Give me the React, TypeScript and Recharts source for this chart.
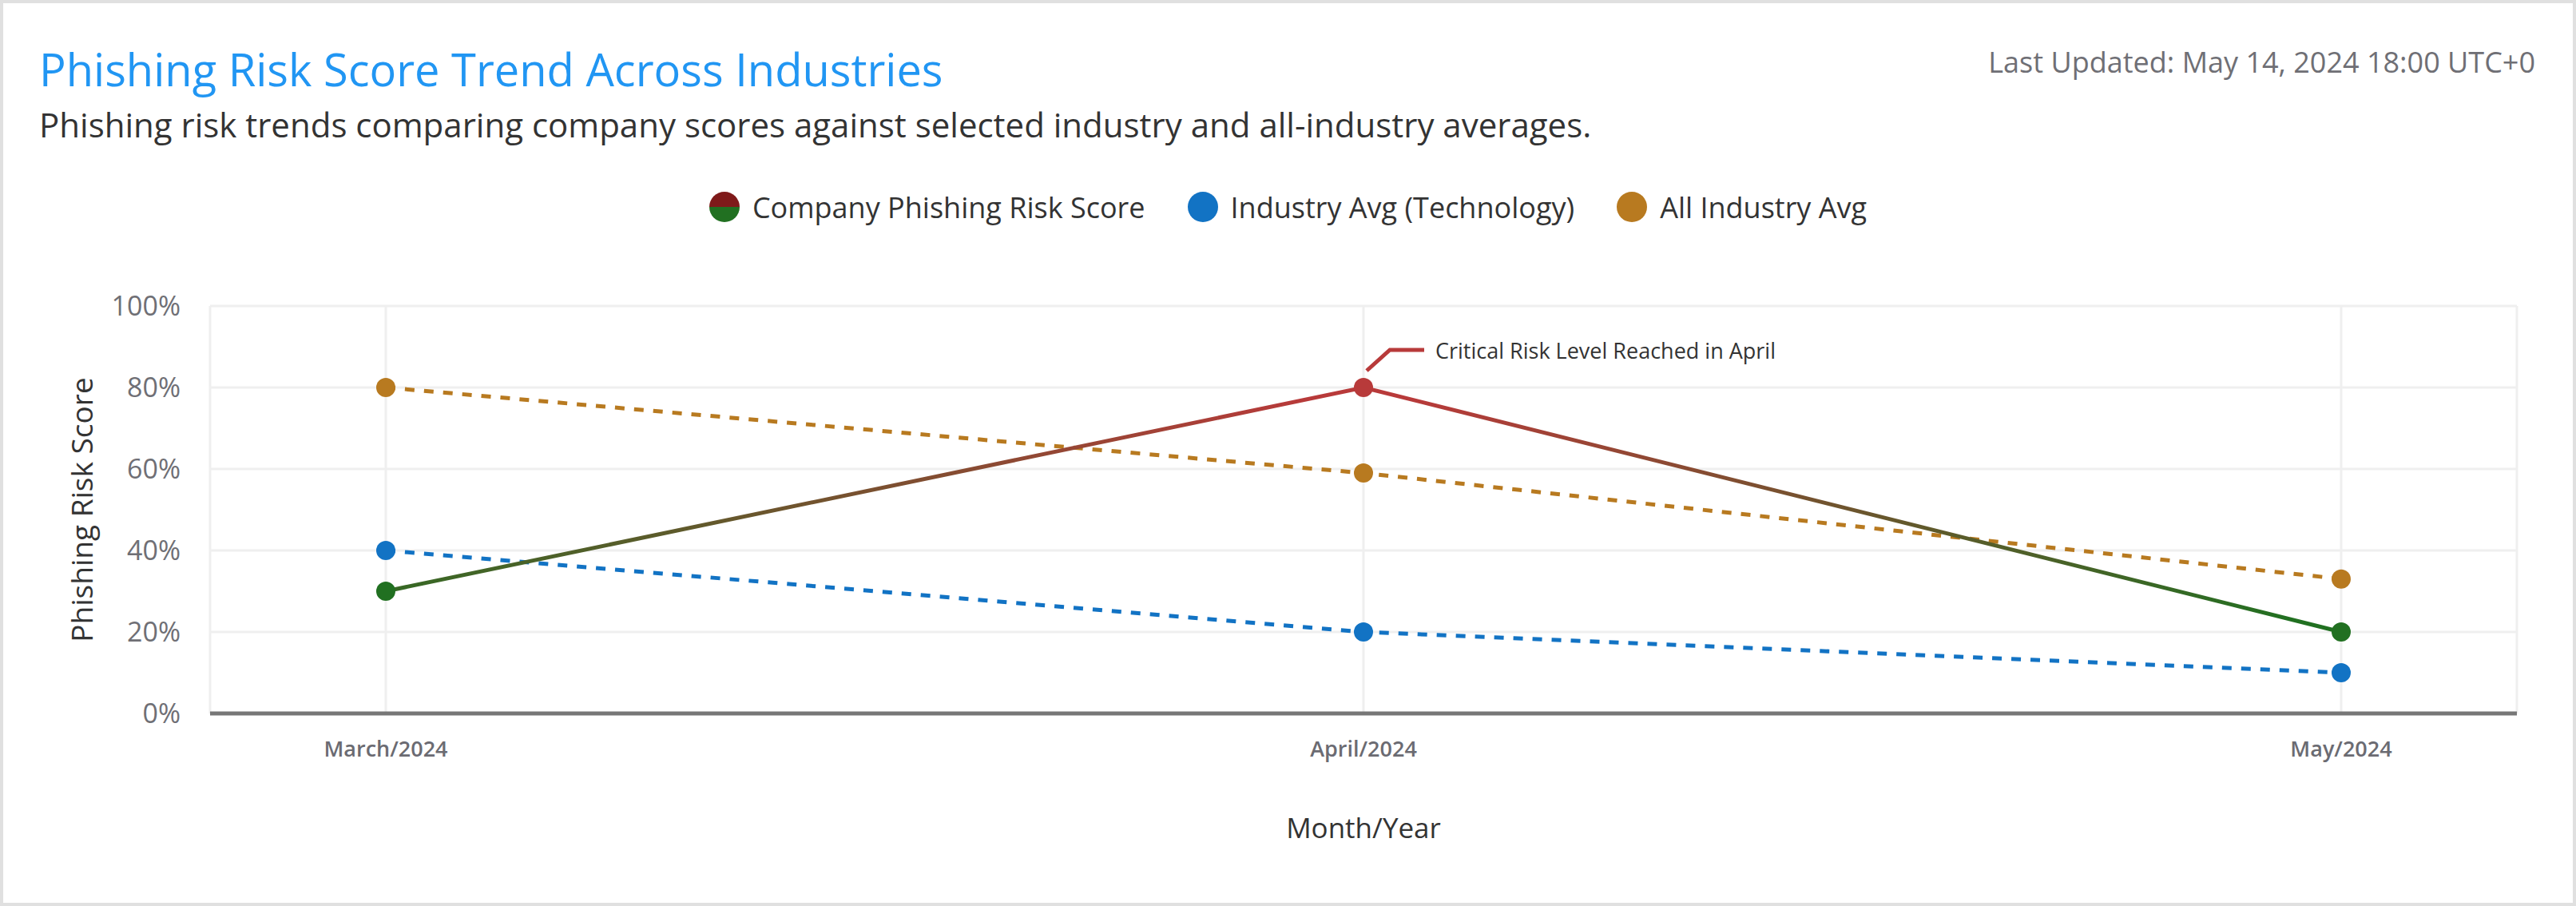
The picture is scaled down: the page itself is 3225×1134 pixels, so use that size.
import { CartesianGrid, Line, LineChart, ReferenceDot, XAxis, YAxis } from 'recharts';

const months = ['March/2024', 'April/2024', 'May/2024'];
const companyScores = [30, 80, 20];
const techIndustryAvg = [40, 20, 10];
const allIndustryAvg = [80, 59, 33];
const yTicks = [0, 20, 40, 60, 80, 100];

const annotations = [{ month: 'April/2024', value: 80, text: 'Critical Risk Level Reached in April' }];

const RED = '#b83a3a';
const GREEN = '#217021';
const BLUE = '#1273c4';
const ORANGE = '#b87a20';
const CRITICAL = 60;

const FONT = '"Open Sans", "Noto Sans", sans-serif';

const data = months.map((month, i) => ({
	month,
	company: companyScores[i],
	tech: techIndustryAvg[i],
	all: allIndustryAvg[i],
}));

const legendItems = [
	{ label: 'Company Phishing Risk Score', color: 'linear-gradient(#7f1a1a 50%, #217021 50%)' },
	{ label: 'Industry Avg (Technology)', color: BLUE },
	{ label: 'All Industry Avg', color: ORANGE },
];

const renderCompanyDot = (p: any) => {
	if (p.cx == null || p.cy == null) return <g key={p.index} />;
	const v = p.payload?.company ?? p.value;
	return <circle key={p.index} cx={p.cx} cy={p.cy} r={12} fill={v >= CRITICAL ? RED : GREEN} />;
};

const annotationLabel = (text: string) => (props: any) => {
	const vb = props.viewBox || {};
	const cx = vb.x + (vb.width || 0) / 2;
	const cy = vb.y + (vb.height || 0) / 2;
	return (
		<g>
			<polyline
				points={`${cx + 4},${cy - 21} ${cx + 33},${cy - 47} ${cx + 76},${cy - 47}`}
				fill="none"
				stroke={RED}
				strokeWidth={5}
			/>
			<text x={cx + 90} y={cy - 47} dominantBaseline="central" fontSize={27} fill="#333" fontFamily={FONT}>
				{text}
			</text>
		</g>
	);
};

const yLabel = (props: any) => {
	const vb = props.viewBox || {};
	const x = vb.x + 61;
	const y = vb.y + vb.height / 2;
	return (
		<text
			x={x}
			y={y}
			transform={`rotate(-90 ${x} ${y})`}
			textAnchor="middle"
			dominantBaseline="central"
			fontSize={37}
			fill="#333"
			fontFamily={FONT}
		>
			Phishing Risk Score
		</text>
	);
};

const xLabel = (props: any) => {
	const vb = props.viewBox || {};
	return (
		<text
			x={vb.x + vb.width / 2}
			y={vb.y + 142}
			textAnchor="middle"
			dominantBaseline="central"
			fontSize={35}
			fill="#333"
			fontFamily={FONT}
		>
			Month/Year
		</text>
	);
};

export default function App() {
	return (
		<div style={{ position: 'relative', width: 3225, height: 1134, background: '#fff', fontFamily: FONT }}>
			<style>{'body{margin:0}'}</style>
			<div style={{ position: 'absolute', inset: 0, border: '4px solid #e0e0e0', pointerEvents: 'none' }} />

			<div style={{ position: 'absolute', left: 49, top: 58, fontSize: 56, lineHeight: '56px', color: '#2196f3', fontWeight: 500 }}>
				Phishing Risk Score Trend Across Industries
			</div>
			<div style={{ position: 'absolute', left: 49, top: 135, fontSize: 42, lineHeight: '42px', color: '#333' }}>
				Phishing risk trends comparing company scores against selected industry and all-industry averages.
			</div>
			<div style={{ position: 'absolute', right: 51, top: 60, fontSize: 36, lineHeight: '36px', color: '#6f6f75' }}>
				Last Updated: May 14, 2024 18:00 UTC+0
			</div>

			<div
				style={{
					position: 'absolute',
					left: 0,
					width: 3225,
					top: 240,
					height: 38,
					display: 'flex',
					justifyContent: 'center',
					alignItems: 'center',
					gap: 53,
					fontSize: 36,
					color: '#333',
				}}
			>
				{legendItems.map((item) => (
					<div key={item.label} style={{ display: 'flex', alignItems: 'center', gap: 16 }}>
						<span style={{ width: 38, height: 38, borderRadius: '50%', background: item.color, display: 'inline-block' }} />
						<span>{item.label}</span>
					</div>
				))}
			</div>

			<div style={{ position: 'absolute', left: 0, top: 0 }}>
				<LineChart width={3225} height={1134} data={data} margin={{ top: 383, right: 74, bottom: 41, left: 40 }}>
					<defs>
						<linearGradient id="companyGrad" x1="0" y1="0" x2="0" y2="1">
							<stop offset="0.05" stopColor={RED} />
							<stop offset="0.95" stopColor={GREEN} />
						</linearGradient>
					</defs>
					<CartesianGrid stroke="#efefef" strokeWidth={3} />
					<XAxis
						dataKey="month"
						padding={{ left: 220, right: 220 }}
						height={200}
						tickLine={false}
						tickSize={0}
						tickMargin={35}
						axisLine={{ stroke: '#777', strokeWidth: 5 }}
						tick={{ fontSize: 27, fontWeight: 600, fill: '#6b6b72', fontFamily: FONT }}
						label={{ content: xLabel }}
					/>
					<YAxis
						domain={[0, 100]}
						ticks={yTicks}
						tickFormatter={(v) => `${v}%`}
						width={223}
						axisLine={false}
						tickLine={false}
						tickSize={0}
						tickMargin={37}
						tick={{ fontSize: 34, fill: '#6f6f75', fontFamily: FONT }}
						label={{ content: yLabel }}
					/>
					<Line
						dataKey="tech"
						stroke={BLUE}
						strokeWidth={5}
						strokeDasharray="12 12"
						dot={{ r: 12, fill: BLUE, stroke: 'none' }}
						activeDot={false}
						isAnimationActive={false}
					/>
					<Line
						dataKey="all"
						stroke={ORANGE}
						strokeWidth={5}
						strokeDasharray="12 12"
						dot={{ r: 12, fill: ORANGE, stroke: 'none' }}
						activeDot={false}
						isAnimationActive={false}
					/>
					<Line
						dataKey="company"
						stroke="url(#companyGrad)"
						strokeWidth={5}
						dot={renderCompanyDot}
						activeDot={false}
						isAnimationActive={false}
					/>
					{annotations.map((a) => (
						<ReferenceDot
							key={a.text}
							x={a.month}
							y={a.value}
							r={0}
							stroke="none"
							fill="none"
							ifOverflow="visible"
							label={{ content: annotationLabel(a.text) }}
						/>
					))}
				</LineChart>
			</div>
		</div>
	);
}
